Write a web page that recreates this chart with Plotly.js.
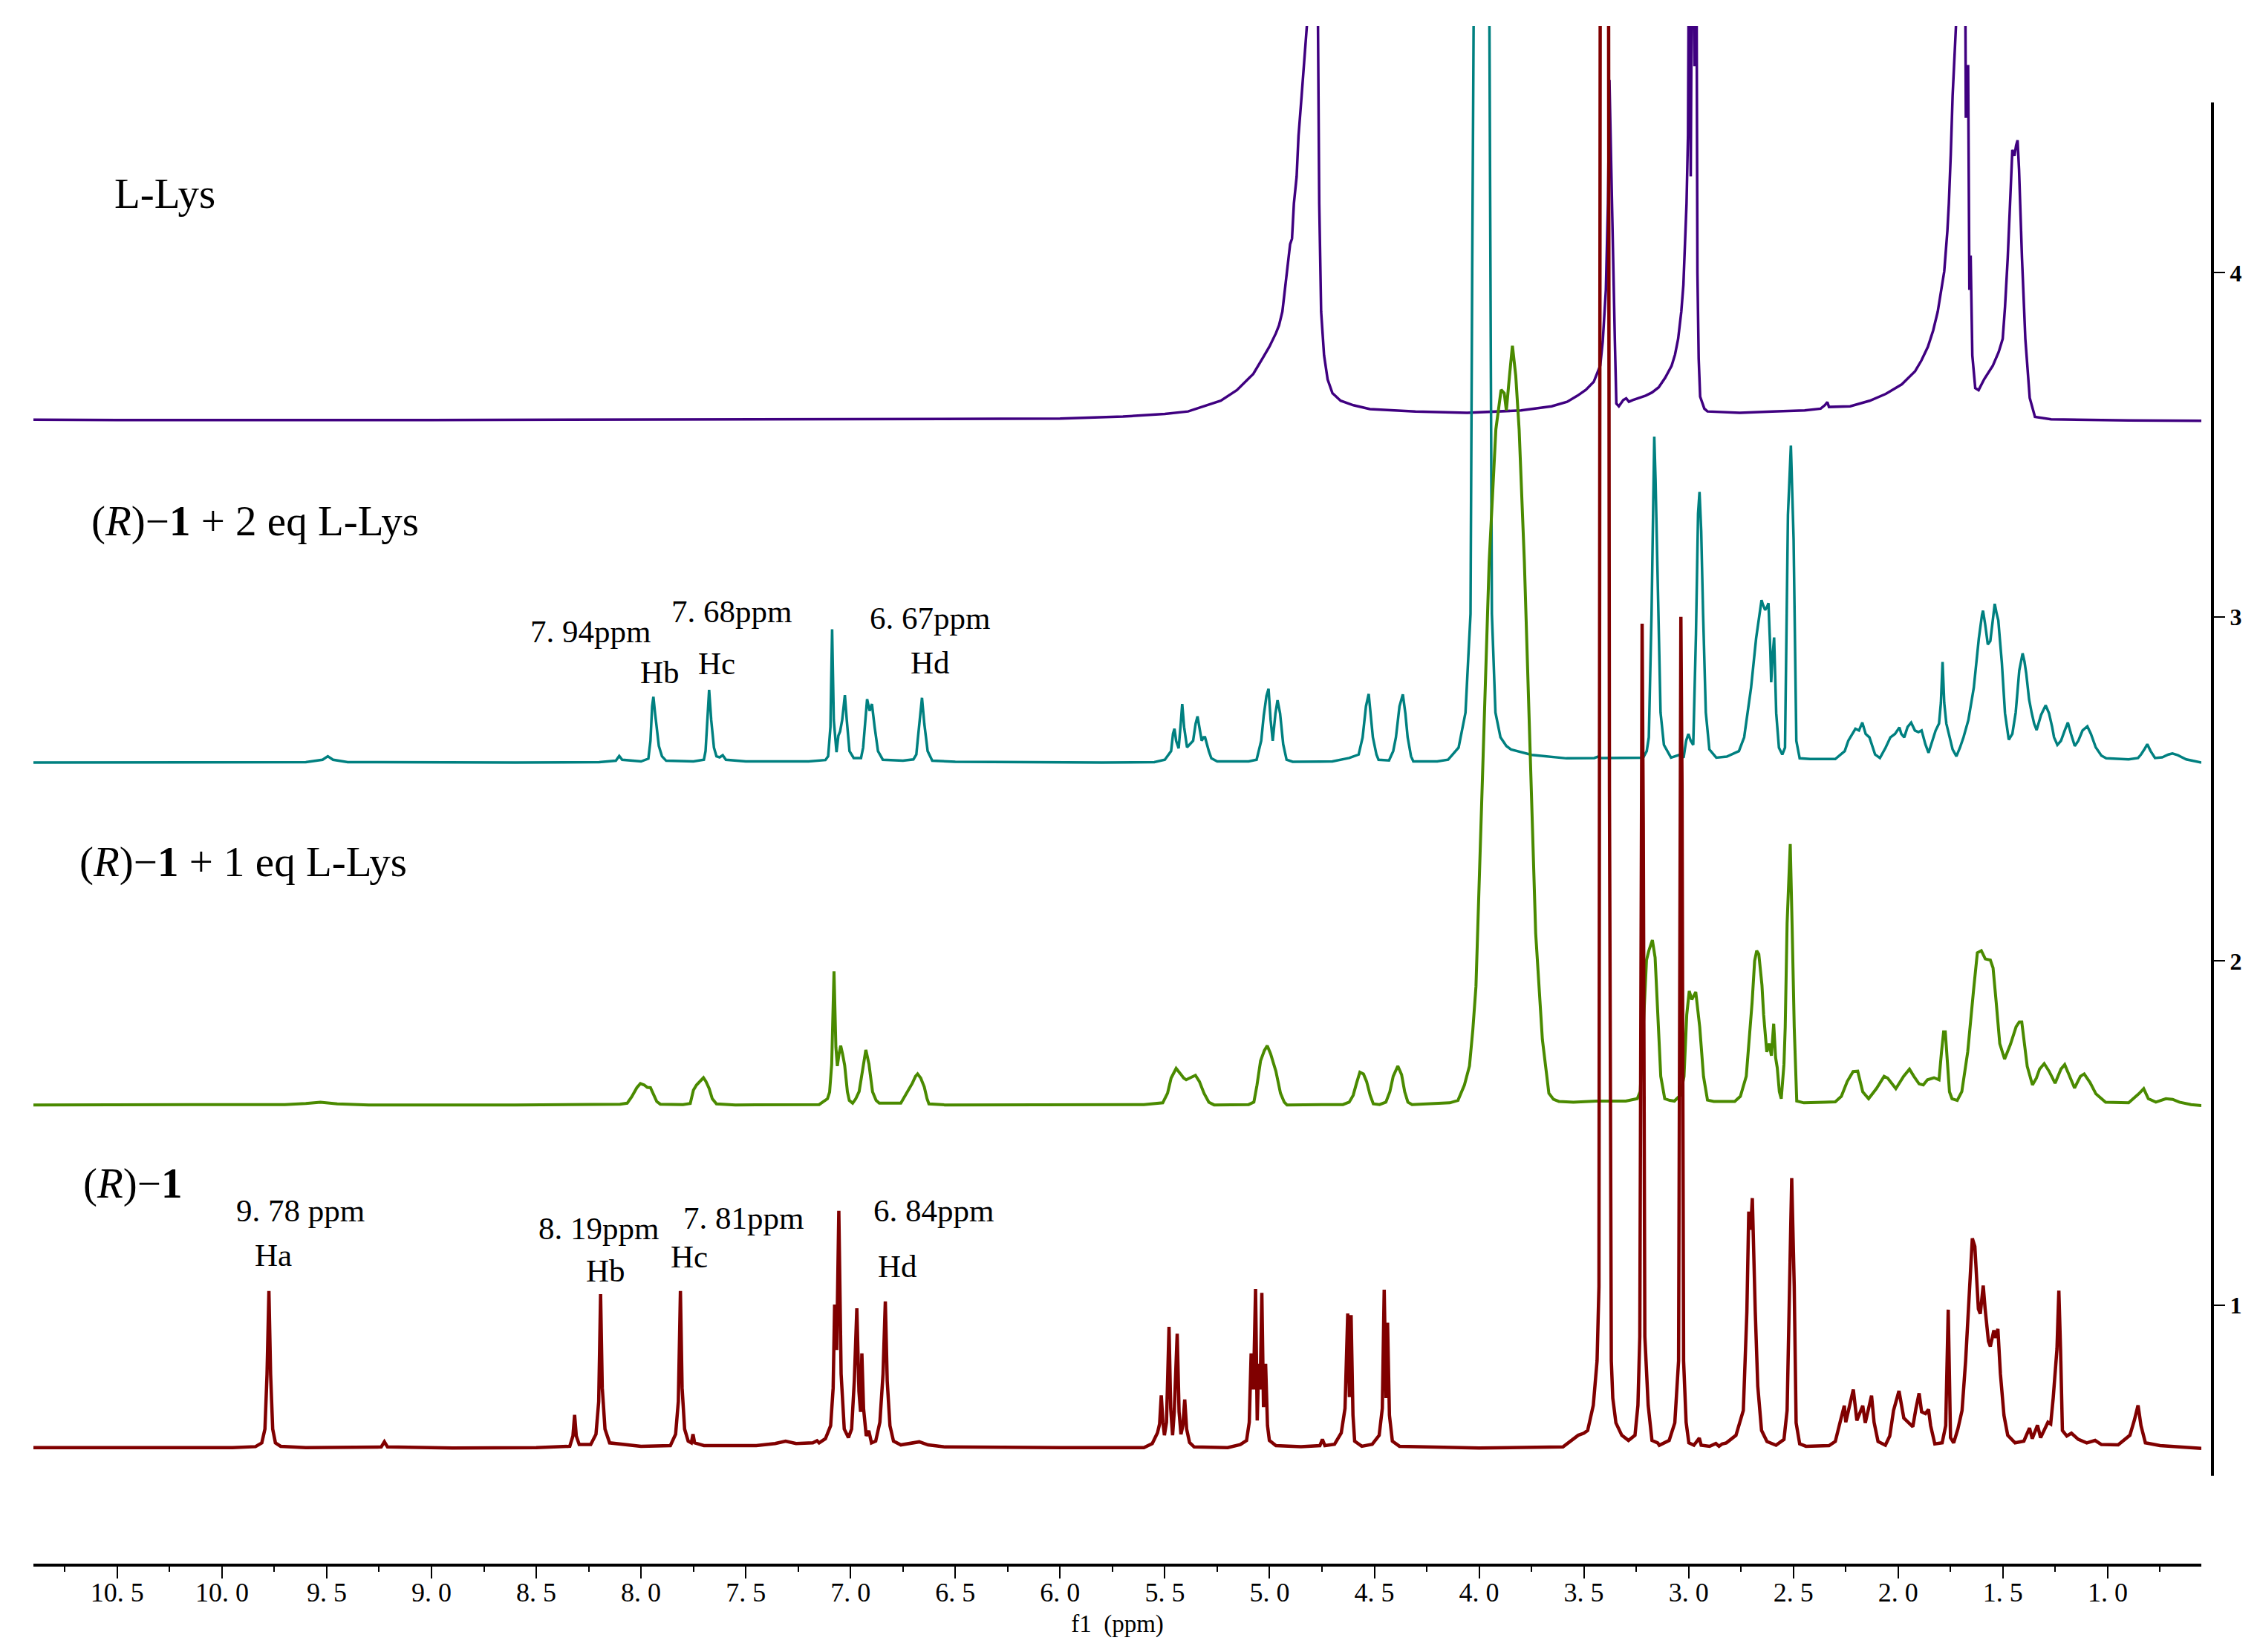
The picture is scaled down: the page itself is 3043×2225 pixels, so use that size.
<!DOCTYPE html>
<html>
<head>
<meta charset="utf-8">
<script src="https://cdn.plot.ly/plotly-3.0.1.min.js"></script>
<style>
html,body{margin:0;padding:0;background:#ffffff;}
#chart{width:3043px;height:2225px;}
</style>
</head>
<body>
<div id="chart"></div>
<script>
// ---- spectra: [ppm, intensity] ----
const spectrumR1 = [
[10.90,0.586],[10.40,0.585],[9.95,0.586],[9.84,0.589],[9.81,0.600],[9.795,0.640],[9.785,0.800],[9.776,1.041],[9.768,0.800],[9.758,0.640],[9.745,0.600],[9.72,0.590],[9.60,0.586],
[9.24,0.588],[9.225,0.603],[9.21,0.588],[8.90,0.585],[8.50,0.586],
[8.34,0.590],[8.325,0.620],[8.317,0.681],[8.309,0.620],[8.295,0.595],[8.24,0.595],[8.215,0.625],[8.202,0.720],[8.193,1.032],[8.185,0.760],[8.172,0.640],[8.15,0.600],[8.00,0.590],
[7.86,0.592],[7.835,0.625],[7.822,0.720],[7.812,1.041],[7.804,0.760],[7.792,0.640],[7.775,0.605],[7.760,0.600],[7.752,0.625],[7.744,0.600],[7.70,0.592],
[7.45,0.592],[7.36,0.598],[7.31,0.605],[7.26,0.598],[7.18,0.600],[7.16,0.606],[7.15,0.600],
[7.12,0.612],[7.095,0.650],[7.083,0.760],[7.076,1.002],[7.066,0.870],[7.056,1.274],[7.045,0.800],[7.030,0.640],[7.010,0.615],
[6.995,0.640],[6.982,0.780],[6.970,0.991],[6.960,0.750],[6.952,0.690],[6.946,0.860],[6.938,0.700],[6.925,0.620],[6.913,0.635],[6.900,0.600],
[6.88,0.605],[6.860,0.660],[6.845,0.800],[6.834,1.011],[6.825,0.780],[6.812,0.650],[6.795,0.605],[6.76,0.594],[6.72,0.598],[6.672,0.603],[6.63,0.594],[6.55,0.588],
[6.00,0.586],[5.75,0.585],[5.60,0.586],
[5.56,0.598],[5.535,0.629],[5.525,0.655],[5.517,0.738],[5.509,0.660],[5.502,0.622],[5.492,0.660],[5.480,0.937],[5.472,0.700],[5.463,0.622],[5.455,0.690],[5.441,0.917],[5.432,0.690],[5.423,0.625],[5.414,0.650],[5.405,0.726],[5.396,0.640],[5.382,0.601],[5.36,0.588],
[5.20,0.586],[5.14,0.595],[5.110,0.607],[5.097,0.660],[5.088,0.860],[5.077,0.755],[5.067,1.047],[5.059,0.665],[5.052,0.830],[5.045,0.755],[5.037,1.036],[5.029,0.704],[5.019,0.830],[5.010,0.650],[5.001,0.607],[4.97,0.592],
[4.85,0.589],[4.76,0.592],[4.748,0.610],[4.736,0.592],[4.69,0.596],
[4.658,0.629],[4.640,0.700],[4.627,0.976],[4.619,0.733],[4.611,0.971],[4.602,0.680],[4.594,0.605],[4.56,0.590],
[4.51,0.596],[4.477,0.622],[4.462,0.700],[4.453,1.045],[4.444,0.730],[4.437,0.949],[4.428,0.680],[4.414,0.605],[4.38,0.590],
[4.00,0.585],[3.60,0.588],[3.527,0.622],[3.50,0.628],[3.482,0.636],[3.455,0.709],[3.437,0.838],
[3.428,1.054],[3.425,2.5],[3.422,4.8],[3.41,6.5],[3.40,7.0],[3.39,6.5],[3.382,4.8],[3.378,2.5],[3.374,1.2],[3.369,0.838],[3.362,0.730],[3.347,0.658],[3.319,0.622],[3.287,0.607],
[3.256,0.622],[3.242,0.709],[3.233,0.909],[3.230,1.4],[3.2275,2.4],[3.222,2.98],[3.2165,2.4],[3.214,1.4],[3.209,0.909],[3.193,0.709],[3.175,0.607],[3.148,0.600],[3.140,0.593],
[3.093,0.607],[3.066,0.658],[3.048,0.838],[3.045,1.5],[3.0425,2.5],[3.037,3.00],[3.0315,2.5],[3.029,1.5],[3.024,0.838],[3.012,0.660],[2.999,0.600],[2.975,0.593],
[2.949,0.614],[2.940,0.593],[2.90,0.590],[2.87,0.598],[2.855,0.590],[2.84,0.597],[2.82,0.600],
[2.774,0.622],[2.739,0.694],[2.722,0.981],[2.713,1.272],[2.704,1.219],[2.696,1.311],[2.682,0.981],[2.670,0.765],[2.652,0.636],[2.626,0.604],[2.583,0.593],
[2.545,0.610],[2.530,0.694],[2.516,1.125],[2.508,1.369],[2.496,1.054],[2.487,0.658],[2.470,0.597],[2.44,0.590],
[2.33,0.592],[2.30,0.604],[2.278,0.658],[2.257,0.708],[2.250,0.660],[2.238,0.690],[2.214,0.755],[2.197,0.665],[2.180,0.690],[2.169,0.708],[2.157,0.658],[2.145,0.690],[2.127,0.737],[2.115,0.660],[2.096,0.604],[2.061,0.593],
[2.040,0.620],[2.022,0.694],[1.996,0.751],[1.973,0.672],[1.960,0.665],[1.930,0.647],[1.915,0.700],[1.900,0.744],[1.888,0.690],[1.870,0.685],[1.855,0.697],[1.845,0.650],[1.825,0.597],
[1.790,0.600],[1.773,0.650],[1.761,0.987],[1.750,0.615],[1.735,0.600],
[1.715,0.640],[1.695,0.694],[1.678,0.838],[1.660,1.054],[1.646,1.194],[1.634,1.171],[1.626,1.100],[1.617,0.989],[1.608,0.975],[1.594,1.057],[1.585,0.990],[1.569,0.895],[1.560,0.880],[1.543,0.927],[1.534,0.905],[1.524,0.931],[1.512,0.801],[1.495,0.680],[1.477,0.622],[1.442,0.600],
[1.40,0.605],[1.373,0.643],[1.360,0.612],[1.335,0.651],[1.320,0.615],[1.300,0.640],[1.285,0.660],[1.272,0.655],
[1.260,0.730],[1.242,0.873],[1.233,1.042],[1.225,0.873],[1.216,0.636],[1.195,0.620],[1.173,0.628],[1.140,0.610],[1.100,0.600],[1.060,0.607],[1.030,0.595],
[0.95,0.594],[0.894,0.622],[0.873,0.665],[0.855,0.709],[0.841,0.650],[0.82,0.600],[0.75,0.592],[0.65,0.588],[0.553,0.584]
];

const spectrumR1Lys1 = [
[10.90,1.582],[10.50,1.582],[9.70,1.583],[9.60,1.586],[9.53,1.590],[9.45,1.585],[9.30,1.582],[8.60,1.582],[8.20,1.583],[8.10,1.584],
[8.066,1.587],[8.045,1.605],[8.020,1.632],[8.003,1.644],[7.985,1.640],[7.970,1.633],[7.955,1.632],[7.940,1.612],[7.925,1.592],[7.908,1.584],
[7.80,1.583],[7.765,1.586],[7.750,1.625],[7.735,1.640],[7.718,1.650],[7.702,1.661],[7.690,1.650],[7.675,1.630],[7.660,1.600],[7.640,1.585],
[7.55,1.582],[7.15,1.583],[7.110,1.600],[7.100,1.619],[7.090,1.700],[7.079,1.970],[7.070,1.750],[7.063,1.695],[7.055,1.730],[7.047,1.754],[7.038,1.730],[7.028,1.697],[7.015,1.620],[7.006,1.595],[6.990,1.587],
[6.975,1.600],[6.959,1.621],[6.945,1.680],[6.927,1.742],[6.912,1.700],[6.895,1.620],[6.878,1.595],[6.863,1.587],
[6.76,1.587],[6.737,1.610],[6.720,1.630],[6.705,1.645],[6.690,1.665],[6.680,1.672],[6.665,1.660],[6.648,1.634],[6.635,1.600],[6.626,1.585],
[6.55,1.582],[5.60,1.583],[5.510,1.588],[5.487,1.616],[5.470,1.660],[5.446,1.688],[5.425,1.672],[5.410,1.660],[5.398,1.655],[5.375,1.662],[5.354,1.668],[5.335,1.650],[5.313,1.616],[5.290,1.590],[5.265,1.582],
[5.10,1.583],[5.075,1.590],[5.060,1.640],[5.043,1.710],[5.025,1.740],[5.011,1.754],[4.995,1.730],[4.980,1.700],[4.970,1.680],[4.948,1.616],[4.930,1.590],[4.917,1.582],
[4.65,1.583],[4.620,1.590],[4.601,1.610],[4.585,1.645],[4.569,1.677],[4.552,1.672],[4.537,1.650],[4.520,1.610],[4.505,1.585],
[4.475,1.583],[4.445,1.590],[4.426,1.620],[4.410,1.665],[4.388,1.695],[4.370,1.670],[4.355,1.620],[4.340,1.590],[4.320,1.583],
[4.20,1.585],[4.140,1.588],[4.101,1.595],[4.070,1.640],[4.046,1.695],[4.030,1.800],[4.015,1.926],[3.983,2.543],[3.952,3.160],[3.920,3.545],[3.895,3.660],[3.880,3.650],[3.870,3.600],[3.855,3.700],[3.841,3.788],[3.825,3.700],[3.809,3.545],[3.784,3.160],[3.755,2.543],[3.730,2.081],[3.698,1.772],[3.680,1.680],[3.667,1.616],[3.645,1.598],[3.619,1.592],
[3.55,1.590],[3.44,1.593],[3.30,1.593],[3.245,1.600],[3.231,1.621],[3.216,1.808],[3.201,2.003],[3.190,2.030],[3.173,2.061],[3.160,2.010],[3.146,1.808],[3.133,1.665],[3.114,1.600],[3.090,1.595],[3.068,1.593],
[3.040,1.610],[3.022,1.665],[3.009,1.844],[2.997,1.913],[2.985,1.888],[2.966,1.910],[2.947,1.808],[2.929,1.665],[2.910,1.596],[2.880,1.592],
[2.78,1.592],[2.753,1.607],[2.725,1.665],[2.697,1.880],[2.685,2.000],[2.675,2.030],[2.665,2.020],[2.650,1.930],[2.642,1.844],[2.627,1.736],[2.615,1.760],[2.605,1.725],[2.594,1.818],[2.585,1.720],[2.577,1.690],[2.567,1.620],[2.558,1.600],
[2.545,1.700],[2.539,1.808],[2.530,2.110],[2.515,2.340],[2.506,2.100],[2.496,1.808],[2.484,1.593],[2.45,1.588],
[2.35,1.590],[2.30,1.591],[2.271,1.607],[2.243,1.650],[2.215,1.679],[2.193,1.680],[2.169,1.620],[2.141,1.600],[2.104,1.629],[2.067,1.665],[2.050,1.660],[2.011,1.629],[1.974,1.665],[1.946,1.686],[1.925,1.665],[1.900,1.643],[1.880,1.640],[1.860,1.655],[1.829,1.661],[1.805,1.655],
[1.793,1.736],[1.783,1.794],[1.775,1.794],[1.765,1.700],[1.755,1.620],[1.743,1.600],[1.718,1.595],
[1.696,1.621],[1.668,1.736],[1.640,1.916],[1.622,2.024],[1.603,2.030],[1.584,2.006],[1.560,2.003],[1.547,1.980],[1.532,1.880],[1.515,1.760],[1.492,1.715],[1.464,1.758],[1.437,1.809],[1.422,1.823],[1.410,1.823],[1.399,1.772],[1.384,1.694],[1.359,1.640],
[1.340,1.660],[1.325,1.686],[1.303,1.702],[1.280,1.680],[1.251,1.645],[1.223,1.686],[1.205,1.699],[1.185,1.670],[1.158,1.631],[1.130,1.665],[1.112,1.672],[1.084,1.647],[1.056,1.614],[1.010,1.590],
[0.900,1.588],[0.852,1.614],[0.828,1.629],[0.806,1.600],[0.770,1.590],[0.722,1.600],[0.690,1.598],[0.658,1.590],[0.602,1.583],[0.553,1.580]
];

const spectrumR1Lys2 = [
[10.90,2.577],[10.50,2.577],[9.60,2.578],[9.52,2.585],[9.495,2.595],[9.47,2.585],[9.40,2.578],[8.60,2.577],[8.20,2.578],
[8.12,2.582],[8.104,2.596],[8.09,2.585],[8.00,2.580],
[7.965,2.588],[7.955,2.640],[7.947,2.740],[7.941,2.768],[7.933,2.720],[7.925,2.670],[7.915,2.625],[7.900,2.595],[7.880,2.582],
[7.75,2.580],[7.700,2.585],[7.692,2.610],[7.684,2.690],[7.675,2.788],[7.665,2.700],[7.652,2.620],[7.640,2.595],[7.625,2.592],[7.610,2.598],[7.595,2.585],
[7.50,2.580],[7.20,2.580],[7.120,2.584],[7.107,2.595],[7.096,2.680],[7.088,2.964],[7.080,2.700],[7.073,2.640],[7.067,2.607],[7.058,2.655],[7.050,2.667],[7.040,2.700],[7.027,2.773],[7.018,2.700],[7.005,2.610],[6.985,2.590],
[6.950,2.590],[6.940,2.620],[6.933,2.680],[6.921,2.761],[6.909,2.727],[6.898,2.747],[6.885,2.680],[6.869,2.610],[6.846,2.585],
[6.75,2.582],[6.700,2.586],[6.686,2.600],[6.679,2.645],[6.668,2.720],[6.659,2.765],[6.648,2.690],[6.632,2.610],[6.610,2.582],
[6.50,2.579],[5.80,2.577],[5.55,2.578],
[5.500,2.585],[5.470,2.610],[5.461,2.660],[5.454,2.675],[5.446,2.640],[5.434,2.618],[5.424,2.690],[5.417,2.747],[5.408,2.680],[5.394,2.621],[5.365,2.640],[5.353,2.690],[5.344,2.711],[5.334,2.670],[5.324,2.640],[5.315,2.650],[5.308,2.650],[5.290,2.610],[5.278,2.589],[5.25,2.580],
[5.10,2.580],[5.062,2.585],[5.040,2.640],[5.028,2.713],[5.015,2.770],[5.005,2.791],[4.995,2.700],[4.985,2.640],[4.972,2.720],[4.962,2.758],[4.950,2.720],[4.935,2.630],[4.919,2.585],[4.89,2.579],
[4.70,2.580],[4.62,2.590],[4.596,2.595],[4.575,2.600],[4.556,2.650],[4.540,2.740],[4.527,2.776],[4.517,2.720],[4.507,2.650],[4.490,2.600],[4.480,2.585],
[4.430,2.583],[4.410,2.610],[4.397,2.650],[4.380,2.740],[4.364,2.775],[4.352,2.720],[4.341,2.650],[4.325,2.595],[4.314,2.580],
[4.20,2.580],[4.148,2.585],[4.098,2.620],[4.065,2.722],[4.041,3.009],[4.033,4.0],[4.028,4.9],[4.018,5.6],[3.990,6.2],[3.962,5.6],[3.952,4.9],[3.946,4.0],[3.939,3.009],[3.922,2.722],[3.898,2.650],[3.870,2.625],[3.848,2.615],[3.749,2.599],[3.583,2.589],
[3.45,2.590],[3.433,2.594],[3.42,2.590],[3.30,2.590],[3.217,2.591],[3.200,2.610],[3.190,2.650],[3.177,3.009],[3.168,3.40],[3.164,3.524],[3.158,3.40],[3.147,3.081],[3.134,2.722],[3.118,2.628],[3.084,2.591],
[3.040,2.600],[3.024,2.591],[3.012,2.640],[3.001,2.660],[2.990,2.640],[2.978,2.628],[2.965,2.950],[2.955,3.30],[2.948,3.363],[2.940,3.250],[2.931,3.009],[2.918,2.722],[2.901,2.615],[2.868,2.591],
[2.818,2.594],[2.760,2.610],[2.735,2.650],[2.702,2.794],[2.678,2.937],[2.665,3.000],[2.652,3.049],[2.645,3.035],[2.635,3.020],[2.625,3.030],[2.619,3.040],[2.610,2.900],[2.606,2.810],[2.600,2.880],[2.592,2.940],[2.582,2.720],[2.569,2.620],[2.553,2.600],
[2.540,2.620],[2.526,3.297],[2.512,3.498],[2.499,3.225],[2.486,2.640],[2.470,2.589],[2.420,2.587],
[2.30,2.587],[2.255,2.610],[2.238,2.640],[2.220,2.660],[2.204,2.675],[2.187,2.670],[2.171,2.693],[2.155,2.660],[2.137,2.650],[2.110,2.600],[2.087,2.590],
[2.060,2.620],[2.037,2.650],[2.015,2.660],[1.994,2.679],[1.985,2.660],[1.971,2.650],[1.955,2.680],[1.938,2.693],[1.920,2.670],[1.903,2.665],[1.888,2.670],[1.870,2.630],[1.855,2.605],
[1.838,2.640],[1.821,2.670],[1.805,2.690],[1.796,2.750],[1.788,2.869],[1.780,2.750],[1.770,2.690],[1.755,2.650],[1.740,2.615],[1.722,2.595],
[1.705,2.620],[1.688,2.650],[1.665,2.700],[1.639,2.794],[1.615,2.937],[1.600,3.005],[1.595,3.018],[1.585,2.980],[1.572,2.920],[1.560,2.930],[1.548,3.000],[1.539,3.038],[1.530,3.010],[1.522,2.990],[1.505,2.866],[1.490,2.720],[1.472,2.643],
[1.455,2.660],[1.439,2.722],[1.422,2.844],[1.406,2.894],[1.397,2.870],[1.389,2.837],[1.375,2.760],[1.363,2.722],[1.351,2.690],[1.339,2.671],[1.318,2.715],[1.296,2.743],[1.280,2.720],[1.265,2.680],[1.256,2.650],[1.240,2.628],[1.223,2.640],[1.205,2.670],[1.190,2.693],[1.175,2.660],[1.157,2.625],[1.140,2.640],[1.120,2.670],[1.097,2.682],[1.080,2.660],[1.057,2.621],[1.030,2.597],[1.007,2.589],
[0.900,2.586],[0.855,2.590],[0.841,2.600],[0.825,2.615],[0.811,2.630],[0.795,2.610],[0.774,2.590],[0.740,2.592],[0.710,2.600],[0.691,2.603],[0.665,2.598],[0.625,2.586],[0.553,2.577]
];

const spectrumLys = [
[10.90,3.573],[10.50,3.572],[9.00,3.572],[8.00,3.573],[7.00,3.574],[6.50,3.574],[6.00,3.576],[5.70,3.582],[5.50,3.590],[5.389,3.597],[5.313,3.612],[5.233,3.628],[5.156,3.659],[5.078,3.706],[5.032,3.753],[5.001,3.785],[4.970,3.824],[4.955,3.847],[4.939,3.887],[4.924,3.965],[4.902,4.083],[4.893,4.099],[4.884,4.201],[4.871,4.279],[4.862,4.397],[4.847,4.515],[4.837,4.593],[4.822,4.718],
[4.810,5.2],[4.795,5.5],[4.780,5.2],[4.769,4.718],[4.763,4.201],[4.754,3.887],[4.740,3.760],[4.723,3.690],[4.700,3.650],[4.661,3.628],[4.600,3.615],[4.521,3.604],[4.304,3.597],[4.057,3.593],[3.800,3.600],[3.654,3.612],[3.580,3.625],[3.530,3.643],[3.490,3.660],[3.453,3.683],[3.422,3.730],
[3.410,3.800],[3.395,3.950],[3.385,4.200],[3.378,4.560],[3.370,4.300],[3.362,4.060],[3.352,3.800],[3.345,3.620],[3.333,3.612],[3.312,3.630],[3.298,3.635],[3.285,3.625],[3.267,3.630],[3.205,3.643],[3.175,3.652],[3.143,3.667],[3.112,3.695],[3.081,3.730],[3.065,3.762],[3.050,3.808],[3.035,3.887],[3.025,3.965],[3.010,4.201],
[3.003,4.40],[2.997,5.2],[2.990,4.28],[2.982,5.2],[2.972,4.6],[2.964,5.2],[2.958,4.0],[2.952,3.75],[2.945,3.64],[2.925,3.605],[2.910,3.597],[2.756,3.593],[2.601,3.597],[2.446,3.600],[2.370,3.605],[2.350,3.615],[2.338,3.624],[2.330,3.610],[2.229,3.612],[2.136,3.628],[2.059,3.648],[1.982,3.676],[1.919,3.714],[1.889,3.745],[1.858,3.785],[1.833,3.832],[1.811,3.887],[1.796,3.942],[1.780,4.004],[1.765,4.122],[1.758,4.201],[1.749,4.342],[1.740,4.515],[1.724,4.718],
[1.710,5.3],[1.695,5.5],[1.682,5.2],[1.677,4.45],[1.672,4.60],[1.666,4.60],[1.660,3.95],[1.654,4.05],[1.646,3.76],[1.632,3.665],[1.616,3.659],[1.590,3.690],[1.548,3.730],[1.520,3.770],[1.501,3.808],[1.490,3.900],[1.477,4.043],[1.455,4.357],[1.445,4.340],[1.437,4.370],[1.430,4.385],[1.423,4.300],[1.409,4.043],[1.393,3.808],[1.372,3.636],[1.347,3.581],[1.270,3.574],[0.900,3.571],[0.553,3.570]
];

// ---- axis ticks ----
const xTickVals = [10.5,10.0,9.5,9.0,8.5,8.0,7.5,7.0,6.5,6.0,5.5,5.0,4.5,4.0,3.5,3.0,2.5,2.0,1.5,1.0];
const xTickText = ["10. 5","10. 0","9. 5","9. 0","8. 5","8. 0","7. 5","7. 0","6. 5","6. 0","5. 5","5. 0","4. 5","4. 0","3. 5","3. 0","2. 5","2. 0","1. 5","1. 0"];
const yTickVals = [1,2,3,4];
const yTickText = ["1","2","3","4"];

// ---- texts ----
const sampleNames = ["L-Lys","(<i>R</i>)−<b>1</b> + 2 eq L-Lys","(<i>R</i>)−<b>1</b> + 1 eq L-Lys","(<i>R</i>)−<b>1</b>"];
const shiftLabels = ["7. 94ppm","7. 68ppm","6. 67ppm","9. 78 ppm","8. 19ppm","7. 81ppm","6. 84ppm"];
const protonLabels = ["Hb","Hc","Hd","Ha","Hb","Hc","Hd"];

// ---- layout geometry (pixels) ----
const W = 3043, H = 2225;
const ML = 45, MR = 64, MT = 35, MB = 119;
const PW = W - ML - MR, PH = H - MT - MB;
const px = x => (x - ML) / PW;
const py = y => (H - MB - y) / PH;

const colors = {lys:"#3f0080", lys2:"#008080", lys1:"#4a8a00", r1:"#800000"};

function tr(data, color, width){
  return {x: data.map(p=>p[0]), y: data.map(p=>p[1]), type:"scatter", mode:"lines",
          line:{color:color, width:width}, hoverinfo:"skip", showlegend:false};
}
const traces = [
  tr(spectrumLys, colors.lys, 3.5),
  tr(spectrumR1Lys2, colors.lys2, 3.5),
  tr(spectrumR1Lys1, colors.lys1, 4),
  tr(spectrumR1, colors.r1, 4.5)
];

const nameFont = {family:"Liberation Serif", size:57, color:"#000"};
const lblFont = {family:"Liberation Serif", size:43, color:"#000"};
const namePos = [[222,260],[343,702],[327,1161],[178,1594]];
const shiftPos = [[795,850],[985,823],[1252,832],[404,1630],[806,1654],[1001,1641],[1257,1630]];
const protonPos = [[888,905],[965,894],[1252,892],[368,1690],[815,1711],[928,1692],[1208,1705]];

const annotations = [];
sampleNames.forEach((t,i)=>annotations.push({text:t, xref:"paper", yref:"paper", x:px(namePos[i][0]), y:py(namePos[i][1]), xanchor:"center", yanchor:"middle", showarrow:false, font:nameFont}));
shiftLabels.forEach((t,i)=>annotations.push({text:t, xref:"paper", yref:"paper", x:px(shiftPos[i][0]), y:py(shiftPos[i][1]), xanchor:"center", yanchor:"middle", showarrow:false, font:lblFont}));
protonLabels.forEach((t,i)=>annotations.push({text:t, xref:"paper", yref:"paper", x:px(protonPos[i][0]), y:py(protonPos[i][1]), xanchor:"center", yanchor:"middle", showarrow:false, font:lblFont}));

const layout = {
  width:W, height:H,
  margin:{l:ML, r:MR, t:MT, b:MB, pad:0},
  paper_bgcolor:"#ffffff", plot_bgcolor:"#ffffff",
  font:{family:"Liberation Serif", color:"#000"},
  showlegend:false,
  xaxis:{
    range:[10.90,0.553], autorange:false, domain:[0,(2964-ML)/PW],
    showline:true, linecolor:"#000", linewidth:4, mirror:false,
    showgrid:false, zeroline:false,
    tickmode:"array", tickvals:xTickVals, ticktext:xTickText,
    ticks:"outside", ticklen:16, tickwidth:2, tickcolor:"#000",
    ticklabelstandoff:-12,
    minor:{tickmode:"linear", tick0:0, dtick:0.25, ticks:"outside", ticklen:7, tickwidth:2, tickcolor:"#000", showgrid:false},
    tickfont:{family:"Liberation Serif", size:36, color:"#000"},
    title:{text:"f1  (ppm)", font:{family:"Liberation Serif", size:33, color:"#000"}, standoff:12}
  },
  yaxis:{
    range:[0.249,4.717], autorange:false, domain:[0,1],
    anchor:"free", position:1, side:"right",
    showline:false, showgrid:false, zeroline:false,
    tickmode:"array", tickvals:yTickVals, ticktext:yTickText,
    ticks:"outside", ticklen:16, tickwidth:2, tickcolor:"#000",
    tickfont:{family:"Liberation Serif", size:32, color:"#000", weight:"bold"}
  },
  shapes:[{type:"line", xref:"paper", yref:"y", x0:1, x1:1, y0:0.504, y1:4.495, line:{color:"#000", width:4}}],
  annotations:annotations
};

Plotly.newPlot("chart", traces, layout, {staticPlot:true, displayModeBar:false});
</script>
</body>
</html>
